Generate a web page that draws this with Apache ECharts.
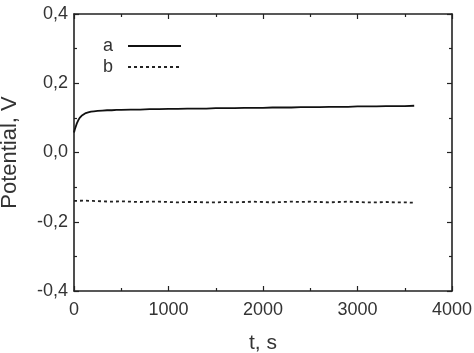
<!DOCTYPE html>
<html><head><meta charset="utf-8">
<script src="https://cdn.jsdelivr.net/npm/echarts@6/dist/echarts.min.js"></script>
<style>html,body{margin:0;padding:0;background:#fff}#c{width:474px;height:353px}</style>
</head><body><div id="c"></div>
<script>
const timeA = [0,10,20,30,45,60,80,100,125,150,180,210,250,300,350,400,450,500,600,700,800,900,1000,1100,1200,1300,1400,1500,1600,1700,1800,1900,2000,2100,2200,2300,2400,2500,2600,2700,2800,2900,3000,3100,3200,3300,3400,3500,3600];
const potA = [0.058,0.068,0.076,0.084,0.093,0.100,0.106,0.110,0.114,0.116,0.118,0.119,0.120,0.121,0.122,0.122,0.123,0.123,0.124,0.124,0.125,0.125,0.126,0.126,0.127,0.127,0.127,0.128,0.128,0.128,0.129,0.129,0.129,0.130,0.130,0.130,0.131,0.131,0.131,0.132,0.132,0.132,0.133,0.133,0.133,0.134,0.134,0.134,0.135];
const timeB = [0,100,200,300,400,500,600,700,800,900,1000,1100,1200,1300,1400,1500,1600,1700,1800,1900,2000,2100,2200,2300,2400,2500,2600,2700,2800,2900,3000,3100,3200,3300,3400,3500,3600];
const potB = [-0.140,-0.139,-0.140,-0.141,-0.142,-0.141,-0.142,-0.143,-0.142,-0.142,-0.143,-0.144,-0.143,-0.143,-0.144,-0.144,-0.143,-0.144,-0.143,-0.142,-0.143,-0.144,-0.143,-0.142,-0.143,-0.142,-0.143,-0.144,-0.143,-0.142,-0.143,-0.144,-0.144,-0.143,-0.144,-0.144,-0.145];
const xTicks = [0,1000,2000,3000,4000];
const yTicks = [-0.4,-0.2,0.0,0.2,0.4];

const chart = echarts.init(document.getElementById('c'));
const font = 'Liberation Sans, Arial, sans-serif';
const axLine = {show:true, onZero:false, lineStyle:{color:'#222', width:1.6}};
const tick = {show:true, inside:true, length:5, lineStyle:{color:'#222', width:1.2}};
const minor = {show:true, splitNumber:2, length:3, lineStyle:{color:'#222', width:1.2}};
chart.setOption({
  animation:false,
  grid:{left:74, top:14, right:22, bottom:62, containLabel:false, outerBoundsMode:'none'},
  legend:{
    left:98, top:32, orient:'vertical', align:'right', itemWidth:53, itemHeight:10, itemGap:3,
    textStyle:{fontFamily:font, fontSize:18, color:'#333', padding:[0,10,0,0]},
    itemStyle:{opacity:0},
    data:['a','b']
  },
  xAxis:[{
    type:'value', min:xTicks[0], max:xTicks[xTicks.length-1], interval:1000,
    name:'t, s', nameLocation:'middle', nameGap:42,
    nameTextStyle:{fontFamily:font, fontSize:21, color:'#333'},
    axisLine:axLine, axisTick:tick, minorTick:minor, splitLine:{show:false},
    axisLabel:{fontFamily:font, fontSize:18, color:'#333', margin:10, formatter:v=>String(v)}
  },{
    type:'value', position:'top', min:0, max:4000, interval:1000,
    axisLine:axLine, axisTick:tick, minorTick:minor, splitLine:{show:false}, axisLabel:{show:false}
  }],
  yAxis:[{
    type:'value', min:yTicks[0], max:yTicks[yTicks.length-1], interval:0.2,
    name:'Potential, V', nameLocation:'middle', nameGap:53,
    nameTextStyle:{fontFamily:font, fontSize:22, color:'#333'},
    axisLine:axLine, axisTick:tick, minorTick:minor, splitLine:{show:false},
    axisLabel:{fontFamily:font, fontSize:18, color:'#333', margin:6,
      formatter:v=>v.toFixed(1).replace('.',',')}
  },{
    type:'value', position:'right', min:-0.4, max:0.4, interval:0.2,
    axisLine:axLine, axisTick:tick, minorTick:minor, splitLine:{show:false}, axisLabel:{show:false}
  }],
  series:[{
    name:'a', type:'line', showSymbol:false, symbol:'none',
    data:timeA.map((t,i)=>[t,potA[i]]),
    lineStyle:{color:'#111', width:1.8}, itemStyle:{color:'#111'}
  },{
    name:'b', type:'line', showSymbol:false, symbol:'none',
    data:timeB.map((t,i)=>[t,potB[i]]),
    lineStyle:{color:'#222', width:1.8, type:[3,3]}, itemStyle:{color:'#222'}
  }]
});
</script></body></html>
